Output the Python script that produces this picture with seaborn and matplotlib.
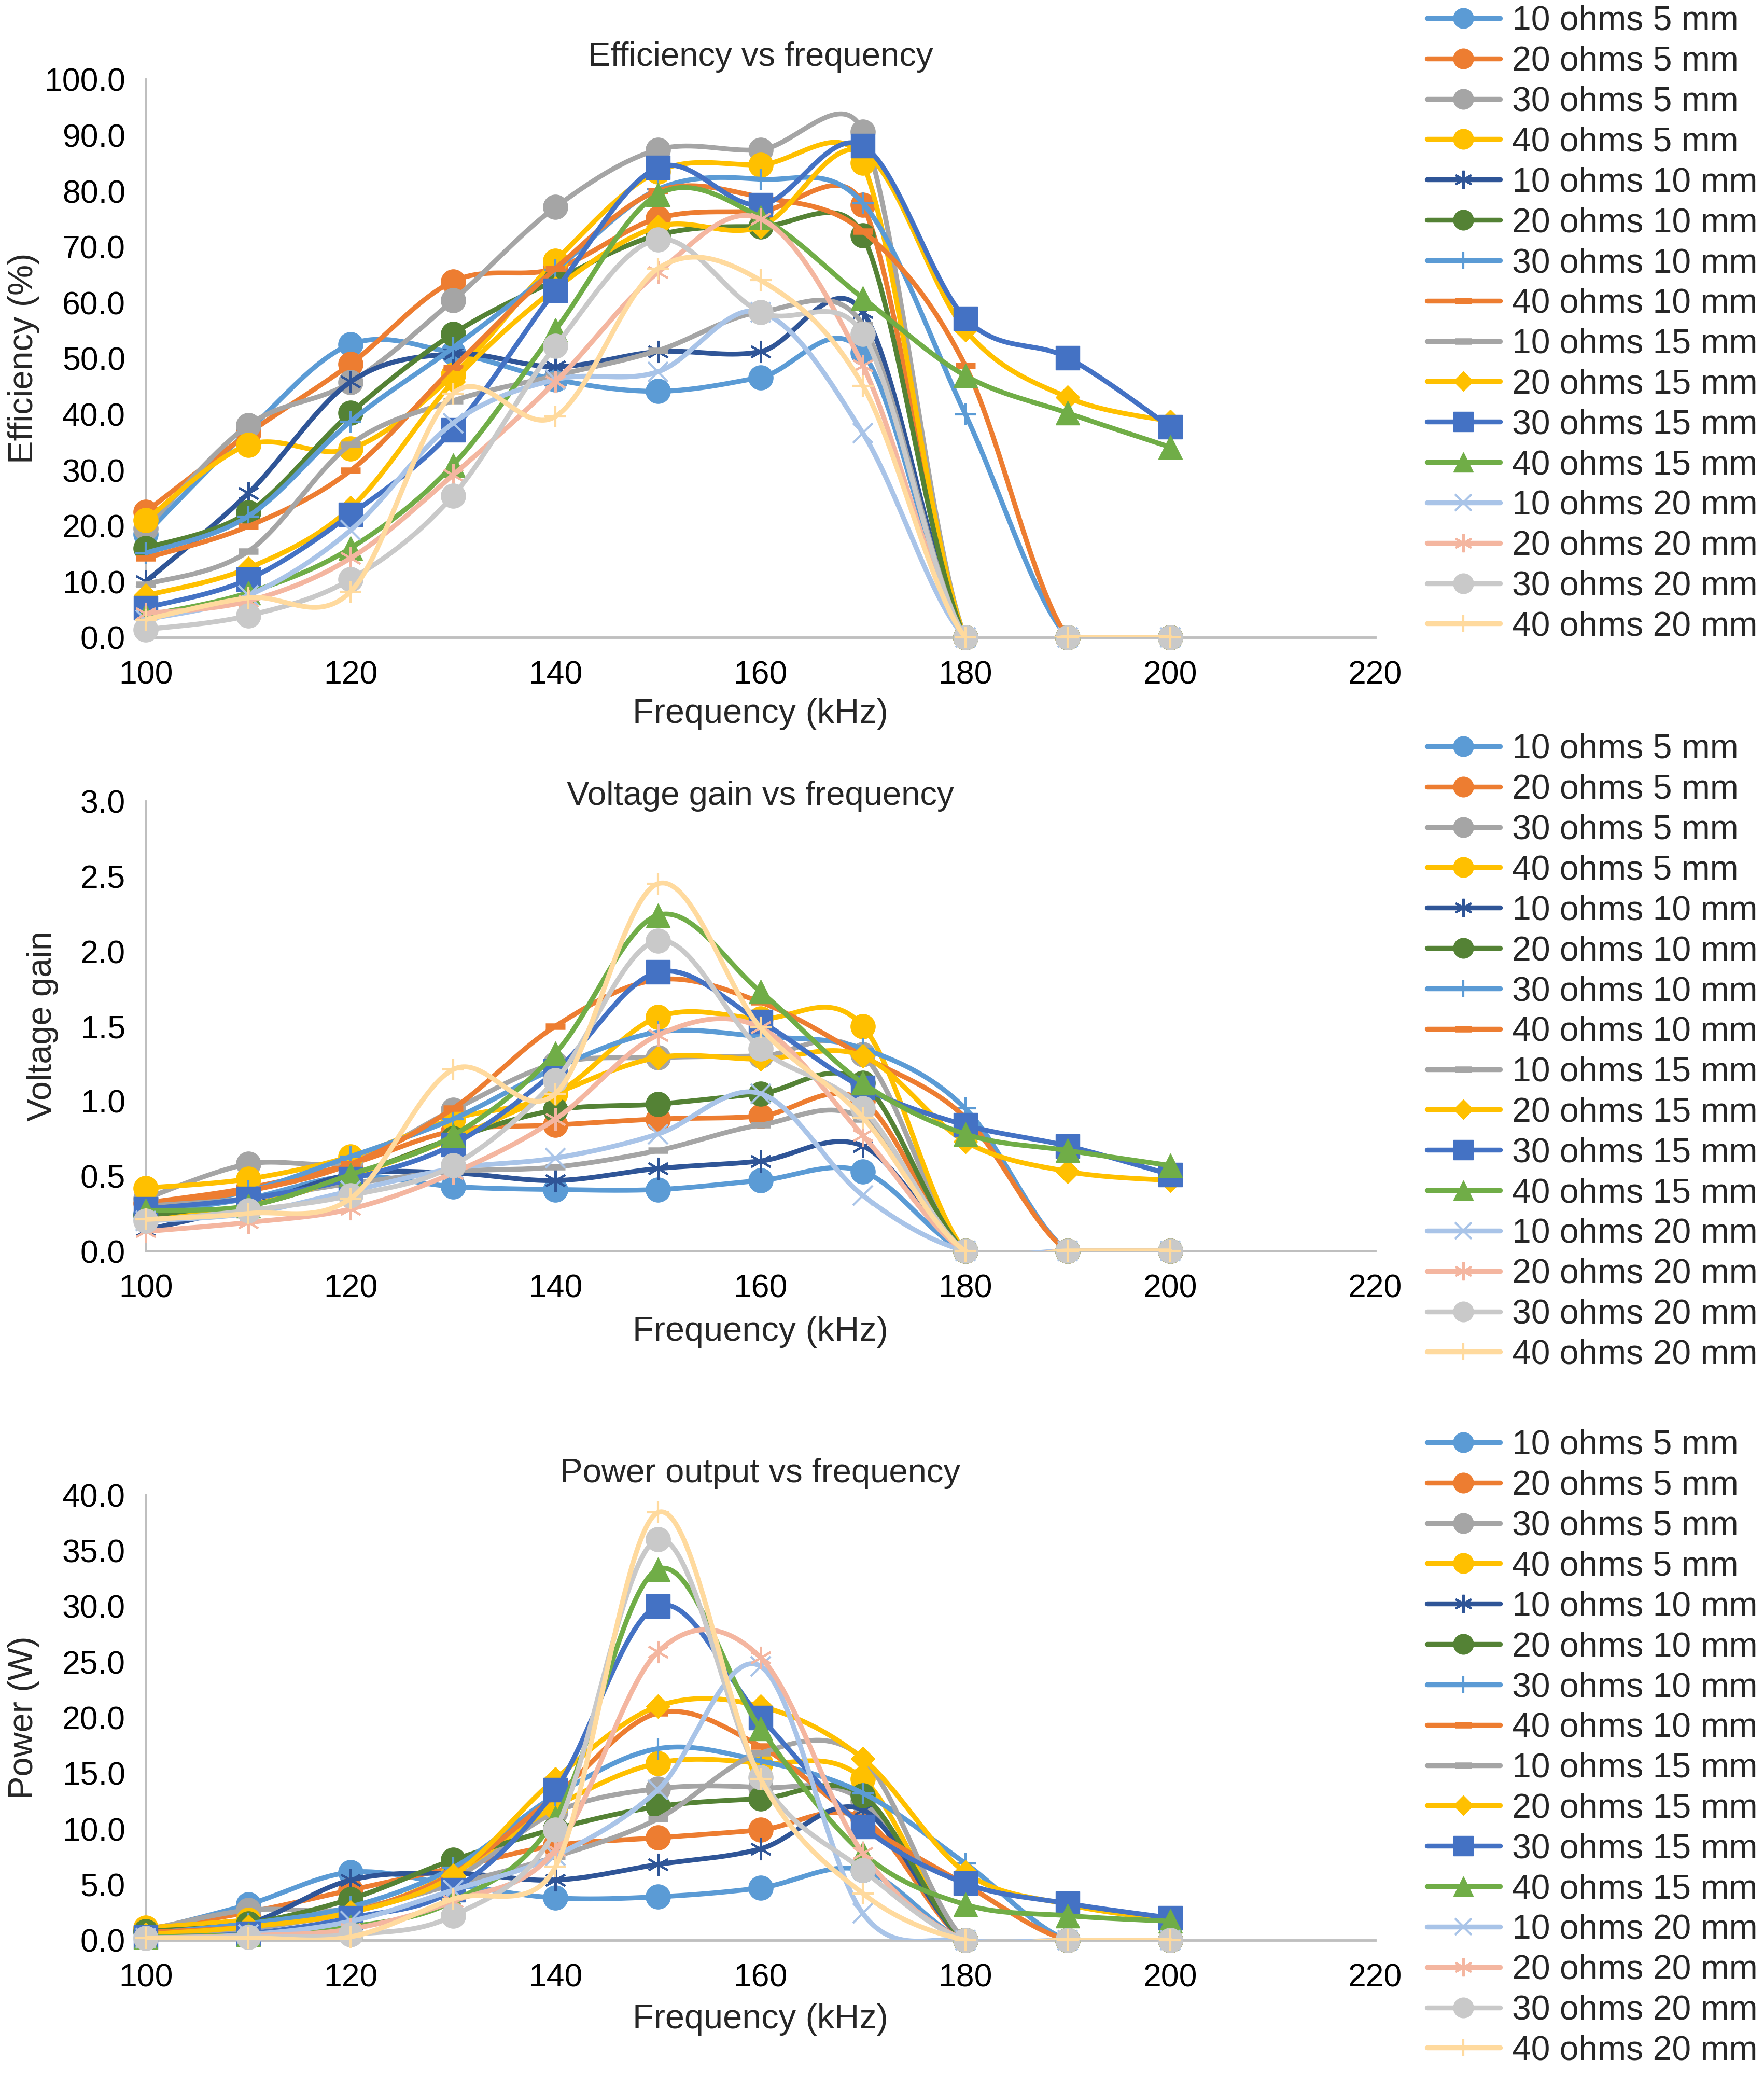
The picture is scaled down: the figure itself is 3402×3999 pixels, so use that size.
"""
Efficiency, voltage gain and power output vs frequency
(16 load / gap combinations, Excel style smoothed lines).
"""

import numpy as np
import matplotlib
matplotlib.use('Agg')
import matplotlib.pyplot as plt
from matplotlib.lines import Line2D
from matplotlib.ticker import FormatStrFormatter, MultipleLocator
import seaborn as sns

FREQ = [100, 110, 120, 130, 140, 150, 160, 170, 180, 190, 200]

SERIES = ['10 ohms 5 mm', '20 ohms 5 mm', '30 ohms 5 mm', '40 ohms 5 mm',
          '10 ohms 10 mm', '20 ohms 10 mm', '30 ohms 10 mm', '40 ohms 10 mm',
          '10 ohms 15 mm', '20 ohms 15 mm', '30 ohms 15 mm', '40 ohms 15 mm',
          '10 ohms 20 mm', '20 ohms 20 mm', '30 ohms 20 mm', '40 ohms 20 mm']

# Efficiency (%) - rows: 10, 20, 30, 40 ohms
eff_5mm = [[18.5, 37.0, 52.5, 51.0, 46.2, 44.1, 46.6, 51.0, 0, 0, 0],
           [22.5, 36.5, 49.0, 63.8, 66.1, 75.1, 76.4, 77.5, 0, 0, 0],
           [19.5, 38.0, 45.7, 60.4, 77.1, 87.4, 87.4, 90.6, 0, 0, 0],
           [21.0, 34.5, 33.8, 47.0, 67.5, 83.5, 84.7, 85.0, 0, 0, 0]]
eff_10mm = [[10.0, 25.8, 45.8, 50.8, 48.5, 51.2, 51.2, 58.3, 0, 0, 0],
            [16.0, 22.4, 40.2, 54.4, 64.0, 72.1, 73.6, 72.0, 0, 0, 0],
            [15.1, 21.7, 38.7, 51.9, 65.9, 80.3, 82.1, 77.8, 40.0, 0, 0],
            [14.2, 19.9, 29.9, 48.3, 66.1, 80.0, 78.9, 72.8, 48.7, 0, 0]]
eff_15mm = [[9.5, 15.4, 34.6, 42.4, 46.9, 51.4, 58.3, 56.0, 0, 0, 0],
            [7.5, 12.4, 23.2, 45.8, 62.5, 73.6, 73.6, 87.0, 55.1, 43.0, 38.7],
            [5.3, 10.4, 22.0, 37.2, 62.2, 84.2, 77.5, 88.1, 57.2, 50.1, 37.7],
            [3.9, 8.0, 16.0, 30.9, 55.1, 79.4, 75.3, 60.8, 46.9, 40.2, 34.1]]
eff_20mm = [[3.2, 7.5, 19.2, 38.4, 46.2, 47.6, 58.3, 36.6, 0, 0, 0],
            [4.3, 6.5, 14.2, 29.1, 45.8, 65.4, 75.0, 48.7, 0, 0, 0],
            [1.4, 3.9, 10.4, 25.4, 52.2, 71.3, 58.3, 54.4, 0, 0, 0],
            [3.2, 7.1, 8.2, 43.7, 39.6, 66.1, 64.0, 45.1, 0, 0, 0]]

# Voltage gain
gain_5mm = [[0.25, 0.35, 0.50, 0.43, 0.41, 0.41, 0.47, 0.53, 0, 0, 0],
            [0.32, 0.42, 0.58, 0.80, 0.84, 0.88, 0.90, 1.00, 0, 0, 0],
            [0.35, 0.58, 0.60, 0.94, 1.25, 1.29, 1.30, 1.31, 0, 0, 0],
            [0.42, 0.48, 0.63, 0.88, 1.05, 1.56, 1.55, 1.50, 0, 0, 0]]
gain_10mm = [[0.14, 0.30, 0.51, 0.52, 0.47, 0.55, 0.60, 0.70, 0, 0, 0],
             [0.24, 0.30, 0.50, 0.75, 0.94, 0.98, 1.05, 1.12, 0, 0, 0],
             [0.28, 0.40, 0.63, 0.88, 1.22, 1.46, 1.43, 1.35, 0.95, 0, 0],
             [0.30, 0.40, 0.58, 0.95, 1.50, 1.81, 1.66, 1.30, 0.89, 0, 0]]
gain_15mm = [[0.30, 0.35, 0.45, 0.53, 0.56, 0.67, 0.84, 0.88, 0, 0, 0],
             [0.20, 0.30, 0.50, 0.75, 1.05, 1.29, 1.28, 1.30, 0.73, 0.53, 0.47],
             [0.28, 0.35, 0.48, 0.71, 1.20, 1.86, 1.53, 1.09, 0.84, 0.70, 0.51],
             [0.27, 0.30, 0.51, 0.77, 1.32, 2.24, 1.73, 1.12, 0.78, 0.67, 0.57]]
gain_20mm = [[0.20, 0.25, 0.40, 0.55, 0.62, 0.78, 1.05, 0.37, 0, 0, 0],
             [0.13, 0.19, 0.28, 0.52, 0.88, 1.44, 1.49, 0.77, 0, 0, 0],
             [0.20, 0.27, 0.37, 0.57, 1.14, 2.07, 1.35, 0.95, 0, 0, 0],
             [0.21, 0.25, 0.35, 1.21, 1.05, 2.45, 1.49, 0.89, 0, 0, 0]]

# Power output (W)
power_5mm = [[0.8, 3.2, 6.1, 5.0, 3.8, 3.9, 4.7, 6.3, 0, 0, 0],
             [1.0, 2.5, 4.5, 6.5, 8.5, 9.2, 9.9, 10.9, 0, 0, 0],
             [0.9, 2.7, 2.8, 5.5, 11.5, 13.6, 13.7, 12.5, 0, 0, 0],
             [1.1, 1.8, 2.5, 6.0, 12.0, 15.9, 15.9, 14.5, 0, 0, 0]]
power_10mm = [[0.5, 1.5, 5.4, 6.0, 5.4, 6.8, 8.2, 11.7, 0, 0, 0],
              [0.8, 1.5, 3.7, 7.2, 10.0, 12.0, 12.7, 13.0, 0, 0, 0],
              [0.6, 1.5, 3.0, 6.5, 13.0, 17.2, 16.1, 13.2, 6.9, 0, 0],
              [0.7, 1.2, 2.5, 6.0, 13.0, 20.4, 17.4, 10.5, 5.0, 0, 0]]
power_15mm = [[0.3, 1.0, 2.5, 5.0, 7.5, 10.9, 16.8, 16.3, 0, 0, 0],
              [0.5, 1.2, 2.5, 5.8, 14.5, 21.0, 21.0, 16.3, 6.1, 3.2, 1.8],
              [0.3, 0.6, 2.0, 4.5, 13.5, 30.0, 20.0, 10.2, 5.1, 3.3, 2.0],
              [0.3, 0.5, 1.2, 3.5, 11.0, 33.3, 19.0, 7.8, 3.2, 2.2, 1.7]]
power_20mm = [[0.2, 0.5, 1.7, 4.5, 7.6, 13.5, 24.6, 2.4, 0, 0, 0],
              [0.2, 0.4, 1.0, 3.5, 8.1, 25.9, 25.4, 7.8, 0, 0, 0],
              [0.2, 0.3, 0.5, 2.2, 9.9, 36.0, 14.6, 6.3, 0, 0, 0],
              [0.2, 0.2, 0.3, 3.7, 6.6, 38.4, 14.5, 4.2, 0, 0, 0]]

COLORS = ['#5B9BD5', '#ED7D31', '#A5A5A5', '#FFC000',
          '#2F5597', '#548235', '#5B9BD5', '#ED7D31',
          '#A5A5A5', '#FFC000', '#4472C4', '#70AD47',
          '#A9C4E8', '#F4B6A0', '#C9C9C9', '#FFDA9E']

STAR = (6, 2, 0)
# marker, size, edge width
MARKERS = [('o', 34, 1), ('o', 34, 1), ('o', 34, 1), ('o', 34, 1),
           (STAR, 31, 3), ('o', 34, 1), ('+', 30, 3), ('_', 28, 9),
           ('_', 28, 9), ('D', 23, 1), ('s', 33, 1), ('^', 33, 1),
           ('x', 28, 3), (STAR, 31, 3), ('o', 34, 1), ('+', 30, 3)]

sns.set_theme(style='white')
plt.rcParams['font.family'] = ['Liberation Sans', 'DejaVu Sans']

FIG_W, FIG_H = 3402, 3999
LW = 6.8


def excel_smooth(ax, xs, ys, n=60):
    # Excel-like bezier smoothing, done in display space
    pts = ax.transData.transform(np.column_stack([xs, ys]).astype(float))
    out = [pts[:1]]
    f = 1 / 6
    last = len(pts) - 1
    t = np.linspace(0, 1, n)[1:, None]
    for i in range(last):
        p0, p1, p2, p3 = pts[max(i - 1, 0)], pts[i], pts[i + 1], pts[min(i + 2, last)]
        d02 = np.hypot(*(p2 - p0)); d12 = np.hypot(*(p2 - p1)); d13 = np.hypot(*(p3 - p1))
        f0 = d12 / d02 / 2 if d02 / 6 >= d12 / 2 else f
        f1 = d12 / d13 / 2 if d13 / 6 >= d12 / 2 else f
        c1 = p1 + (p2 - p0) * f0
        c2 = p2 - (p3 - p1) * f1
        seg = (1 - t)**3 * p1 + 3 * (1 - t)**2 * t * c1 + 3 * (1 - t) * t**2 * c2 + t**3 * p2
        out.append(seg)
    return ax.transData.inverted().transform(np.vstack(out))


def draw_chart(rect, groups, ymax, ystep, fmt, title, title_y, ylabel, ylabel_x,
               xlabel_y, leg_top):
    ax = fig.add_axes(rect)
    ax.set_xlim(100, 220)
    ax.set_ylim(0, ymax)
    ax.xaxis.set_major_locator(MultipleLocator(20))
    ax.yaxis.set_major_locator(MultipleLocator(ystep))
    ax.yaxis.set_major_formatter(FormatStrFormatter(fmt))
    ax.tick_params(length=0, labelsize=45, colors='black')
    ax.tick_params(axis='y', pad=28)
    ax.tick_params(axis='x', pad=31)
    for s in ['top', 'right']:
        ax.spines[s].set_visible(False)
    for s in ['left', 'bottom']:
        ax.spines[s].set_color('#BFBFBF')
        ax.spines[s].set_linewidth(3.5)
        ax.spines[s].set_zorder(1)

    rows = [r for g in groups for r in g]
    for i, ys in enumerate(rows):
        z = 3 + i * 0.1
        sm = excel_smooth(ax, FREQ, ys)
        sns.lineplot(x=sm[:, 0], y=sm[:, 1], ax=ax, color=COLORS[i], lw=LW,
                     sort=False, estimator=None, zorder=z, solid_capstyle='round')
        m, ms, mew = MARKERS[i]
        ax.plot(FREQ, ys, ls='none', marker=m, ms=ms, mew=mew, color=COLORS[i],
                mec=COLORS[i], clip_on=False, zorder=z + 0.05)

    ax.set_title(title, fontsize=47, y=title_y, pad=0, va='center')
    ax.set_ylabel(ylabel, fontsize=48)
    ax.yaxis.set_label_coords(ylabel_x, 0.5)
    ax.yaxis.label.set_va('center')
    ax.set_xlabel('Frequency (kHz)', fontsize=48)
    ax.xaxis.set_label_coords(0.5, xlabel_y)
    ax.xaxis.label.set_va('center')

    handles = [Line2D([0], [0], color=COLORS[i], lw=LW, marker=MARKERS[i][0],
                      ms=MARKERS[i][1] * 0.82, mew=MARKERS[i][2], mec=COLORS[i],
                      solid_capstyle='round')
               for i in range(len(SERIES))]
    ax.legend(handles, SERIES, loc='upper left', bbox_to_anchor=(2752 / FIG_W, leg_top),
              bbox_transform=fig.transFigure, frameon=False, fontsize=47.5,
              borderpad=0, borderaxespad=0, labelspacing=0.24, handlelength=2.13,
              handletextpad=0.35)
    return ax


fig = plt.figure(figsize=(FIG_W / 100, FIG_H / 100), dpi=100)
fig.patch.set_facecolor('white')

L, W = 281 / FIG_W, (2652 - 281) / FIG_W


def rect(top_px, bot_px):
    return [L, 1 - bot_px / FIG_H, W, (bot_px - top_px) / FIG_H]


draw_chart(rect(153, 1229), [eff_5mm, eff_10mm, eff_15mm, eff_20mm], 100, 10, '%.1f',
           'Efficiency vs frequency', 1.040, 'Efficiency (%)', -0.099, -0.138, 1 - 10 / FIG_H)
draw_chart(rect(1545, 2412), [gain_5mm, gain_10mm, gain_15mm, gain_20mm], 3.0, 0.5, '%.1f',
           'Voltage gain vs frequency', 1.0115, 'Voltage gain', -0.084, -0.180, 1 - 1414 / FIG_H)
draw_chart(rect(2882, 3741), [power_5mm, power_10mm, power_15mm, power_20mm], 40, 5, '%.1f',
           'Power output vs frequency', 1.048, 'Power (W)', -0.099, -0.178, 1 - 2756 / FIG_H)

plt.savefig('out.png', dpi=100, facecolor='white')
plt.close()
